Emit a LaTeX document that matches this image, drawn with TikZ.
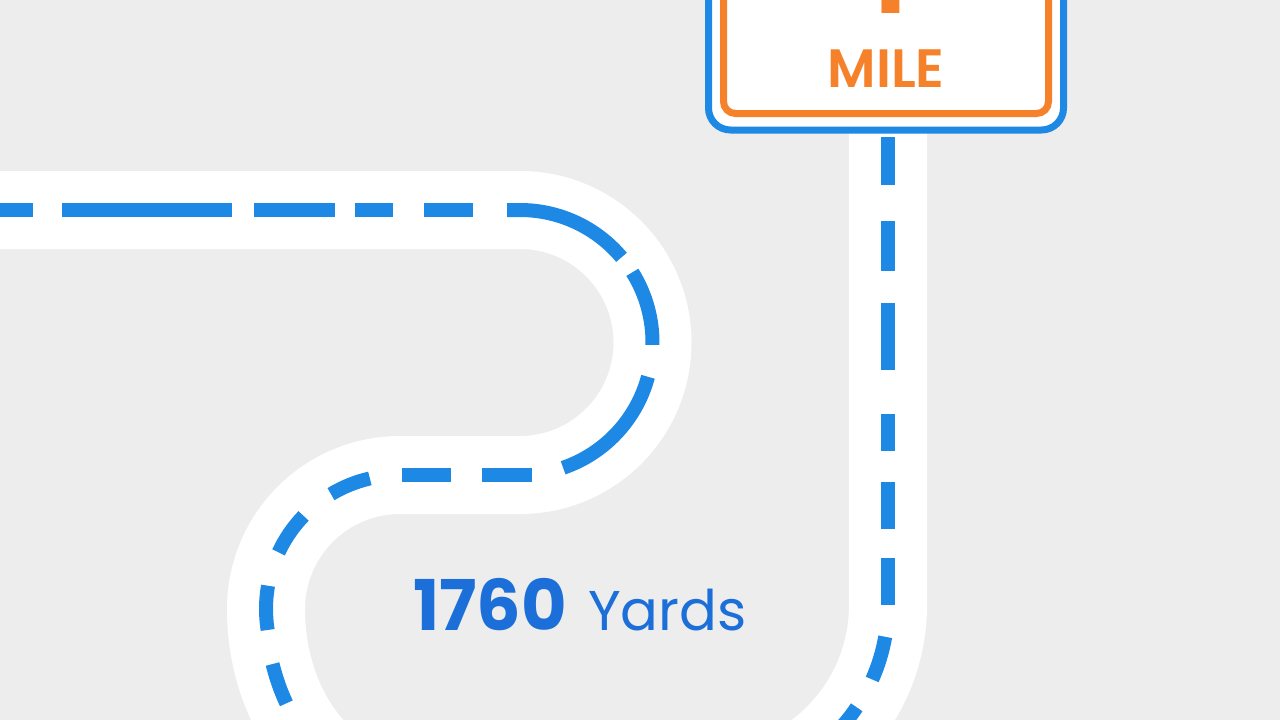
\documentclass[tikz,border=0pt]{standalone}
\usepackage{fontspec}
\setmainfont{Poppins}
\newfontfamily\popsemi{Poppins SemiBold}
\definecolor{bg}{HTML}{EDEDED}
\definecolor{roadblue}{HTML}{1E88E5}
\definecolor{txtblue}{HTML}{1C6FD8}
\definecolor{signorange}{HTML}{F5822A}
\tikzset{
  road/.style={draw=white, line width=78pt},
  laneline/.style={draw=roadblue, line width=14pt, line cap=butt},
  signouter/.style={draw=roadblue, fill=white, line width=7pt, rounded corners=22pt},
  signinner/.style={draw=signorange, line width=7pt, rounded corners=12pt},
  signtext/.style={anchor=base, inner sep=0pt, text=signorange},
  labeltext/.style={anchor=base west, inner sep=0pt, text=txtblue},
}
\begin{document}
\begin{tikzpicture}[x=1pt,y=-1pt]
\useasboundingbox (0,0) rectangle (1280,720);
\clip (0,0) rectangle (1280,720);
\fill[bg] (0,0) rectangle (1280,720);
% curve centres
\coordinate (c1) at (520,342.5);
\coordinate (c2) at (400,609);
\coordinate (c3) at (705,605);
% road
\draw[road] (-60,210) -- (520,210) arc[start angle=-90, end angle=90, radius=132.5]
  -- (400,475) arc[start angle=-90, end angle=-180, radius=134]
  arc[start angle=-180, end angle=-270, x radius=134, y radius=178]
  -- (705,788) arc[start angle=90, end angle=0, radius=183]
  -- (888,100);
% lane markings: top straight
\draw[laneline] (-10,210) -- (33,210);
\draw[laneline] (62,210) -- (232,210);
\draw[laneline] (254,210) -- (335,210);
\draw[laneline] (355,210) -- (393,210);
\draw[laneline] (424,210) -- (473,210);
\draw[laneline] (507,210) -- (520,210) arc[start angle=-90, end angle=-40, radius=132.5];
\draw[laneline] (c1) ++(-32:132.5) arc[start angle=-32, end angle=1, radius=132.5];
\draw[laneline] (c1) ++(15:132.5) arc[start angle=15, end angle=71, radius=132.5];
% middle straight
\draw[laneline] (532,475) -- (482,475);
\draw[laneline] (451,475) -- (402,475);
% left curve
\draw[laneline] (c2) ++(-103:134) arc[start angle=-103, end angle=-121, radius=134];
\draw[laneline] (c2) ++(-136:134) arc[start angle=-136, end angle=-155, radius=134];
\draw[laneline] (c2) ++(-170:134) arc[start angle=-170, end angle=-189, radius=134];
\draw[laneline] ([shift={(-198:134 and 178)}]c2) arc[start angle=-198, end angle=-212, x radius=134, y radius=178];
% right vertical
\draw[laneline] (888,137) -- (888,185);
\draw[laneline] (888,221) -- (888,271);
\draw[laneline] (888,303) -- (888,370);
\draw[laneline] (888,414) -- (888,451);
\draw[laneline] (888,482) -- (888,529);
\draw[laneline] (888,558) -- (888,605);
\draw[laneline] (c3) ++(10:183) arc[start angle=10, end angle=24, radius=183];
\draw[laneline] (c3) ++(34:183) arc[start angle=34, end angle=50, radius=183];
% sign
\draw[signouter] (708.5,-60) rectangle (1063.5,130);
\draw[signinner] (723.5,-60) rectangle (1048.5,113.5);
\node[signtext, font=\popsemi\fontsize{124}{124}\selectfont] (one) at (888,13) {1};
\node[signtext, font=\popsemi\fontsize{54}{54}\selectfont] (mile) at (886,87) {MILE};
% label
\node[labeltext, font=\bfseries\fontsize{70}{70}\selectfont] (num) at (413,630) {1760};
\node[labeltext, font=\fontsize{56}{56}\selectfont] (yards) at (588,630) {Yards};
\end{tikzpicture}
\end{document}
